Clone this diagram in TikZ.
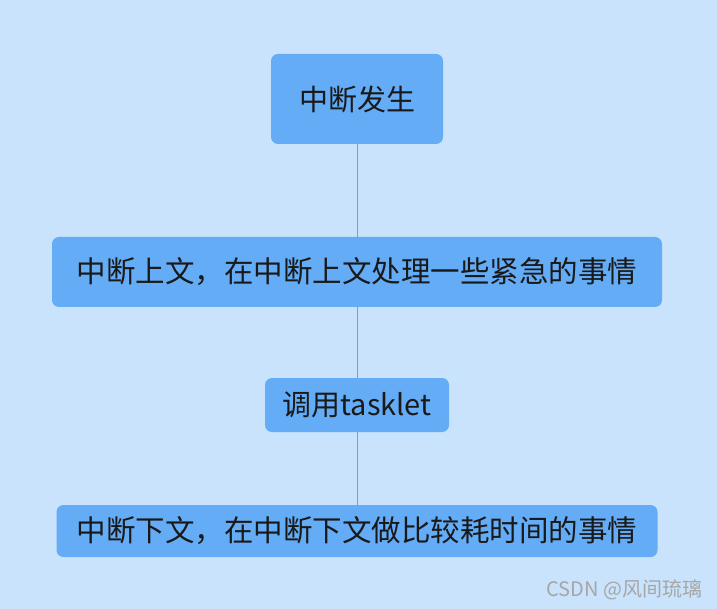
\documentclass[tikz,border=0pt]{standalone}
\usepackage{fontspec}
\setmainfont{Noto Sans CJK SC}
\definecolor{bg}{HTML}{C9E3FC}
\definecolor{bx}{HTML}{64ACF5}
\begin{document}
\begin{tikzpicture}[x=1pt,y=-1pt,
  box/.style={draw=none,fill=bx,rounded corners=7pt,inner sep=0pt,text=black!90},
  ln/.style={draw=gray!80,line width=1pt}]
\fill[bg] (0,0) rectangle (717,609);
\useasboundingbox (0,0) rectangle (717,609);
\node[box,minimum width=172pt,minimum height=90pt,font=\fontsize{29}{34}\selectfont] (a) at (357,99) {中断发生};
\node[box,minimum width=610pt,minimum height=70pt,font=\fontsize{29.5}{34}\selectfont] (b) at (357,272) {中断上文，在中断上文处理一些紧急的事情};
\node[box,minimum width=184pt,minimum height=54pt,font=\fontsize{29}{34}\selectfont] (c) at (357,405) {调用tasklet};
\node[box,minimum width=601pt,minimum height=52pt,font=\fontsize{29.5}{34}\selectfont] (d) at (357,531) {中断下文，在中断下文做比较耗时间的事情};
\draw[ln] (a) -- (b);
\draw[ln] (b) -- (c);
\draw[ln] (c) -- (d);
\node[text=gray!70!white,font=\fontsize{20}{24}\selectfont,anchor=east] (w) at (706,590) {CSDN @风间琉璃};
\end{tikzpicture}
\end{document}
